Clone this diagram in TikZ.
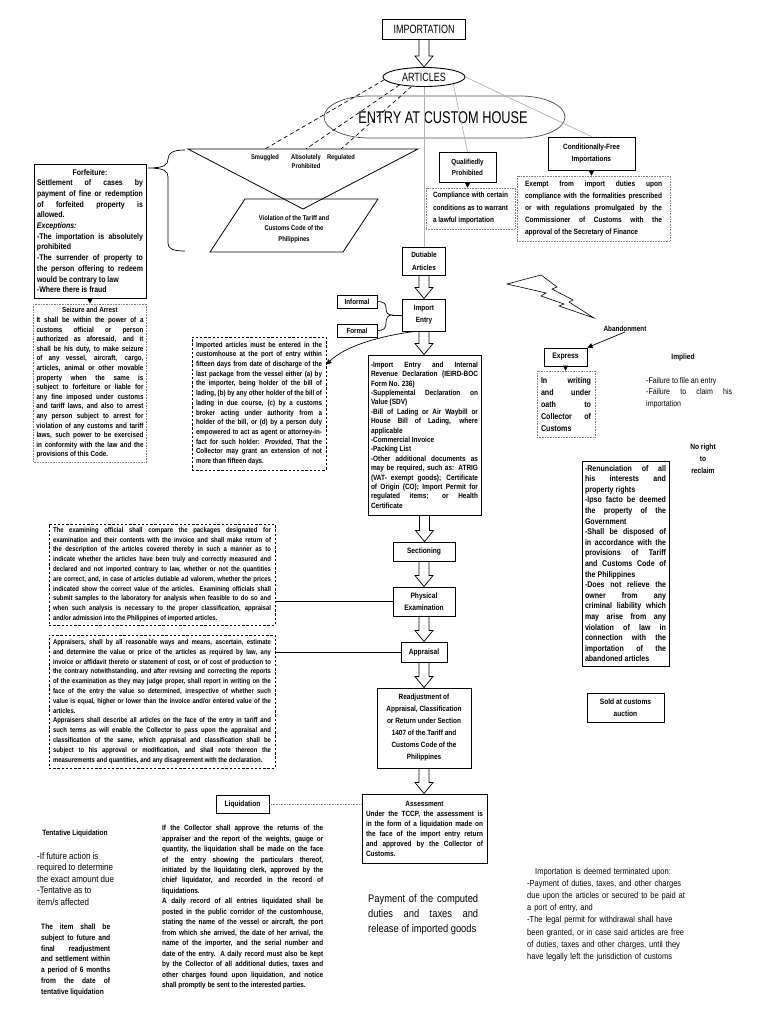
\documentclass[tikz,border=0pt]{standalone}
\usepackage{fontspec}
\setmainfont{Liberation Sans}[FakeStretch=0.85]
\newfontfamily\ttlfont{Liberation Sans}[FakeStretch=0.75]
\usetikzlibrary{positioning,calc,shapes.geometric,arrows.meta}
\newcommand\fsz[2]{\fontsize{#1}{#2}\selectfont}
\setlength{\parindent}{0pt}

\begin{document}
\begin{tikzpicture}[x=1pt,y=-1pt,
    box/.style={draw, line width=0.9pt, inner sep=1pt, align=center, font=\bfseries\fsz{7.8}{12}},
    dotbox/.style={draw=gray, densely dotted, line width=0.6pt, inner xsep=3pt, inner ysep=2pt, align=justify, font=\bfseries\fsz{7.6}{12.2}},
    dashbox/.style={draw, dash pattern=on 2.4pt off 1.8pt, line width=0.9pt, inner xsep=4pt, inner ysep=2pt, align=justify, font=\bfseries\fsz{7}{9.8}},
    txt/.style={inner sep=0, font=\bfseries\fsz{7.5}{10.5}},
    hollow/.style={line width=0.7pt, to path={let \p1=(\tikztostart), \p2=(\tikztotarget) in
      (\x1-5pt,\y1) -- (\x1-5pt,\y2+11pt) -- (\x1-9pt,\y2+11pt) -- (\x1,\y2)
      -- (\x1+9pt,\y2+11pt) -- (\x1+5pt,\y2+11pt) -- (\x1+5pt,\y1)}},
    pointer/.style={line width=0.7pt, -{Triangle[length=5pt,width=5pt]}},
    grayline/.style={draw=gray!60, line width=0.7pt}]
  \useasboundingbox[fill=white] (0,0) rectangle (768,1024);

  % importation
  \node[box, font=\ttlfont\fsz{12}{14}, minimum width=83, minimum height=20] (imp) at (424,29) {IMPORTATION};
  \node[draw, line width=0.9pt, ellipse, inner sep=0, minimum width=82, minimum height=19, font=\ttlfont\fsz{12}{14}] (art) at (424,77) {ARTICLES};
  \draw[hollow] (imp.south) to (art.north);

  % entry at custom house
  \draw[line width=0.7pt, draw=black!70] (369,96) -- (520,96) arc[start angle=-90, end angle=90, x radius=45, y radius=21]
    -- (369,138) arc[start angle=90, end angle=270, x radius=45, y radius=21] -- cycle;
  \node[font=\ttlfont\fsz{17}{20}] (entry) at (443,118) {ENTRY AT CUSTOM HOUSE};

  % prohibited importations
  \draw[line width=0.8pt] (245,199) -- (378,199) -- (343,252) -- (210,252) -- cycle;
  \draw[line width=0.8pt] (188,149) -- (418,149) -- (303,209) -- cycle;
  \node[txt, anchor=north, inner ysep=5pt, font=\bfseries\fsz{6.8}{9.5}] (smug) at (265,149) {Smuggled};
  \node[txt, anchor=north, inner ysep=5pt, align=center, font=\bfseries\fsz{6.8}{9.5}] (abs) at (306,149) {Absolutely\\Prohibited};
  \node[txt, anchor=north, inner ysep=5pt, font=\bfseries\fsz{6.8}{9.5}] (reg) at (341,149) {Regulated};
  \node[txt, align=center, font=\bfseries\fsz{6.9}{10.5}] (viol) at (294,229) {Violation of the Tariff and\\Customs Code of the\\Philippines};
  \draw[dash pattern=on 4pt off 3pt, line width=0.7pt] (art.184) -- (smug.north);
  \draw[dash pattern=on 4pt off 3pt, line width=0.7pt] (art.198) -- (abs.north);
  \draw[dash pattern=on 4pt off 3pt, line width=0.7pt] (art.217) -- (reg.north);

  % forfeiture and seizure
  \node[box, align=justify, text width=106, inner xsep=3pt, minimum height=134, font=\bfseries\fsz{8.2}{10.7}] (forf) at (90,231)
    {{\centering Forfeiture:\par}Settlement of cases by\linebreak payment of fine or redemption\linebreak of forfeited property is\linebreak allowed.\par
     \textit{Exceptions:}\par
     -The importation is absolutely\linebreak prohibited\par
     -The surrender of property to\linebreak the person offering to redeem\linebreak would be contrary to law\par
     -Where there is fraud};
  \node[dotbox, text width=107, inner xsep=3pt, minimum height=158, font=\bfseries\fsz{7.4}{9.6}] (seiz) at (90,383)
    {{\centering Seizure and Arrest\par}It shall be within the power of a\linebreak customs official or person\linebreak authorized as aforesaid, and it\linebreak
     shall be his duty, to make seizure\linebreak of any vessel, aircraft, cargo,\linebreak articles, animal or other movable\linebreak
     property when the same is\linebreak subject to forfeiture or liable for\linebreak any fine imposed under customs\linebreak
     and tariff laws, and also to arrest\linebreak any person subject to arrest for\linebreak violation of any customs and tariff\linebreak
     laws, such power to be exercised\linebreak in conformity with the law and the\linebreak provisions of this Code.};
  \draw[pointer] (forf.south) -- (seiz.north);
  \draw[line width=0.7pt] (185,150) .. controls (173,150) and (168,153) .. (168,159) .. controls (168,165) and (164,168) .. (148,168)
    .. controls (164,168) and (168,171) .. (168,177) -- (168,243) .. controls (168,249) and (173,251) .. (185,251);

  % qualifiedly prohibited
  \node[box, minimum width=57, minimum height=30, font=\bfseries\fsz{7.4}{11}] (qual) at (467.5,167) {Qualifiedly\\Prohibited};
  \node[dotbox, text width=75, inner xsep=7pt, minimum height=41, font=\bfseries\fsz{7.6}{12.5}] (compl) at (470.5,208.5)
    {Compliance with certain\linebreak conditions as to warrant\linebreak a lawful importation};
  \draw[pointer] (qual.south) -- (qual.south |- compl.north);

  % conditionally-free
  \node[box, minimum width=87, minimum height=33, font=\bfseries\fsz{7.6}{11.5}] (cond) at (591.5,153.5) {Conditionally-Free\\Importations};
  \node[dotbox, text width=137, inner xsep=8pt, minimum height=65, font=\bfseries\fsz{7.7}{12.2}] (exempt) at (593.5,208.5)
    {Exempt from import duties upon\linebreak compliance with the formalities prescribed\linebreak or with regulations promulgated by the\linebreak
     Commissioner of Customs with the\linebreak approval of the Secretary of Finance};
  \draw[pointer] (cond.south) -- (cond.south |- exempt.north);

  % dutiable articles and import entry
  \node[box, minimum width=43, minimum height=28, font=\bfseries\fsz{7.6}{13}] (dut) at (424,261) {Dutiable\\Articles};
  \node[box, minimum width=43, minimum height=32, font=\bfseries\fsz{7.6}{12}] (ient) at (424,315) {Import\\Entry};
  \node[box, minimum width=40, minimum height=13, font=\bfseries\fsz{7.4}{10}] (infm) at (357,301.5) {Informal};
  \node[box, minimum width=40, minimum height=13, font=\bfseries\fsz{7.4}{10}] (frml) at (357,330.5) {Formal};
  \coordinate (btip) at (392,315);
  \draw[line width=0.7pt] (infm.east) .. controls (384,301.5) and (386,304) .. (386,308) .. controls (386,313) and (388,315) .. (btip)
    .. controls (388,315) and (386,318) .. (386,323) .. controls (386,328) and (384,330.5) .. (frml.east);
  \draw[line width=0.7pt] (btip) -- (ient.west);
  \draw[grayline] (art.south) -- (dut.north);
  \draw[grayline] (art.south east) -- (qual.north);
  \draw[grayline] (art.east) -- (cond.north);
  \draw[hollow] (dut.south) to (ient.north);

  % period of entry
  \node[dashbox, text width=126, minimum height=133, font=\bfseries\fsz{7.3}{9.7}] (impa) at (259,403.5)
    {Imported articles must be entered in the\linebreak customhouse at the port of entry within\linebreak fifteen days from date of discharge of the\linebreak
     last package from the vessel either (a) by\linebreak the importer, being holder of the bill of\linebreak lading, (b) by any other holder of the bill of\linebreak
     lading in due course, (c) by a customs\linebreak broker acting under authority from a\linebreak holder of the bill, or (d) by a person duly\linebreak
     empowered to act as agent or attorney-in-\linebreak fact for such holder: \textit{Provided}, That the\linebreak Collector may grant an extension of not\linebreak
     more than fifteen days.};
  \draw[pointer] (ient.240) .. controls (380,336) and (345,346) .. (impa.30);

  % documents
  \node[box, align=justify, text width=107, inner xsep=3pt, minimum height=160, font=\bfseries\fsz{7.6}{9.4}] (docs) at (424.5,435)
    {-Import Entry and Internal\linebreak Revenue Declaration (IEIRD-BOC\linebreak Form No. 236)\par
     -Supplemental Declaration on\linebreak Value (SDV)\par
     -Bill of Lading or Air Waybill or\linebreak House Bill of Lading, where\linebreak applicable\par
     -Commercial Invoice\par
     -Packing List\par
     -Other additional documents as\linebreak may be required, such as: ATRIG\linebreak (VAT- exempt goods); Certificate\linebreak
     of Origin (CO); Import Permit for\linebreak regulated items; or Health\linebreak Certificate};
  \draw[hollow] (ient.south) to (docs.north);

  % examination and appraisal
  \node[box] (sect) at (424,551.5) [minimum width=62, minimum height=19] {Sectioning};
  \node[box, minimum width=62, minimum height=29, font=\bfseries\fsz{7.8}{11.5}] (phys) at (424,601.5) {Physical\\Examination};
  \node[box, minimum width=46, minimum height=20] (appr) at (424,652) {Appraisal};
  \node[box, minimum width=94, minimum height=80, font=\bfseries\fsz{7.6}{12}] (readj) at (424,728)
    {Readjustment of\\Appraisal, Classification\\or Return under Section\\1407 of the Tariff and\\Customs Code of the\\Philippines};
  \node[box, align=justify, text width=117, inner xsep=4pt, minimum height=69, font=\bfseries\fsz{7.6}{10}] (assess) at (424.5,828.5)
    {{\centering Assessment\par}Under the TCCP, the assessment is\linebreak in the form of a liquidation made on\linebreak
     the face of the import entry return\linebreak and approved by the Collector of\linebreak Customs.};
  \draw[hollow] (docs.south) to (sect.north);
  \draw[hollow] (sect.south) to (phys.north);
  \draw[hollow] (phys.south) to (appr.north);
  \draw[hollow] (appr.south) to (readj.north);
  \draw[hollow] (readj.south) to (assess.north);

  \node[dashbox, text width=218, minimum height=101] (exam) at (162,574.5)
    {The examining official shall compare the packages designated for\linebreak examination and their contents with the invoice and shall make return of\linebreak
     the description of the articles covered thereby in such a manner as to\linebreak indicate whether the articles have been truly and correctly measured and\linebreak
     declared and not imported contrary to law, whether or not the quantities\linebreak are correct, and, in case of articles dutiable ad valorem, whether the prices\linebreak
     indicated show the correct value of the articles. Examining officials shall\linebreak submit samples to the laboratory for analysis when feasible to do so and\linebreak
     when such analysis is necessary to the proper classification, appraisal\linebreak and/or admission into the Philippines of imported articles.};
  \node[dashbox, text width=218, minimum height=133] (apprs) at (162,701.5)
    {Appraisers, shall by all reasonable ways and means, ascertain, estimate\linebreak and determine the value or price of the articles as required by law, any\linebreak
     invoice or affidavit thereto or statement of cost, or of cost of production to\linebreak the contrary notwithstanding, and after revising and correcting the reports\linebreak
     of the examination as they may judge proper, shall report in writing on the\linebreak face of the entry the value so determined, irrespective of whether such\linebreak
     value is equal, higher or lower than the invoice and/or entered value of the\linebreak articles.\par
     Appraisers shall describe all articles on the face of the entry in tariff and\linebreak such terms as will enable the Collector to pass upon the appraisal and\linebreak
     classification of the same, which appraisal and classification shall be\linebreak subject to his approval or modification, and shall note thereon the\linebreak
     measurements and quantities, and any disagreement with the declaration.};
  \draw[line width=0.8pt] (phys.west) -- (phys.west -| exam.east);
  \draw[line width=0.8pt] (appr.west) -- (appr.west -| apprs.east);

  % liquidation
  \node[box, minimum width=53, minimum height=18] (liq) at (242.5,804) {Liquidation};
  \draw[draw=gray, densely dotted, line width=0.6pt] (liq.east) -- (liq.east -| assess.west);
  \node[txt, font=\bfseries\fsz{7.7}{10}] (tent) at (75,833) {Tentative Liquidation};
  \node[txt, anchor=north west, align=left, font=\fsz{9.4}{11.5}] (tentl) at (37,852)
    {-If future action is\\required to determine\\the exact amount due\\-Tentative as to\\item/s affected};
  \node[txt, anchor=north west, text width=69, align=justify, font=\bfseries\fsz{7.8}{10.7}] (item) at (41,924)
    {The item shall be\linebreak subject to future and\linebreak final readjustment\linebreak and settlement within\linebreak
     a period of 6 months\linebreak from the date of\linebreak tentative liquidation};
  \node[txt, anchor=north west, text width=161, align=justify, font=\bfseries\fsz{7.5}{10.47}] (liqt) at (162,825)
    {If the Collector shall approve the returns of the\linebreak appraiser and the report of the weights, gauge or\linebreak
     quantity, the liquidation shall be made on the face\linebreak of the entry showing the particulars thereof,\linebreak
     initiated by the liquidating clerk, approved by the\linebreak chief liquidator, and recorded in the record of\linebreak liquidations.\par
     A daily record of all entries liquidated shall be\linebreak posted in the public corridor of the customhouse,\linebreak
     stating the name of the vessel or aircraft, the port\linebreak from which she arrived, the date of her arrival, the\linebreak
     name of the importer, and the serial number and\linebreak date of the entry. A daily record must also be kept\linebreak
     by the Collector of all additional duties, taxes and\linebreak other charges found upon liquidation, and notice\linebreak
     shall promptly be sent to the interested parties.};

  % payment and termination
  \node[txt, anchor=north west, text width=110, align=justify, font=\fsz{11}{15}] (pay) at (368,894)
    {Payment of the computed\linebreak duties and taxes and\linebreak release of imported goods};
  \node[txt, anchor=north west, text width=172, align=left, font=\fsz{8.8}{12.1}] (term) at (527,868)
    {\hspace*{8pt}Importation is deemed terminated upon:\\-Payment of duties, taxes, and other charges\\
     due upon the articles or secured to be paid at\\a port of entry, and\\-The legal permit for withdrawal shall have\\
     been granted, or in case said articles are free\\of duties, taxes and other charges, until they\\
     have legally left the jurisdiction of customs};

  % abandonment
  \draw[fill=white, line width=0.6pt] (507,284) -- (541,275) -- (557,287) -- (552,289) -- (573,300) -- (569,302) -- (594,318)
    -- (559,306) -- (564,304) -- (541,296) -- (546,293) -- cycle;
  \node[txt] (aband) at (625,329) {Abandonment};
  \node[box, minimum width=43, minimum height=18, font=\bfseries\fsz{8}{10}] (expr) at (565.5,357) {Express};
  \draw[pointer] (aband.south) -- (expr.north east);
  \node[dotbox, text width=50, inner xsep=4pt, minimum height=66, font=\bfseries\fsz{8.4}{12}] (writ) at (566,404)
    {In writing\linebreak and under\linebreak oath to\linebreak Collector of\linebreak Customs};
  \draw[pointer] (expr.south) -- (expr.south |- writ.north);
  \node[txt, font=\bfseries\fsz{7.8}{10}] (impl) at (683,357) {Implied};
  \node[txt, anchor=north west, text width=86, align=justify, font=\fsz{8.3}{11.5}] (fail) at (646,377)
    {-Failure to file an entry\par -Failure to claim his\linebreak importation};
  \node[txt, align=center, font=\bfseries\fsz{7.8}{12}] (noright) at (703,459) {No right\\to\\reclaim};
  \node[box, align=justify, text width=81, inner xsep=3pt, minimum height=205, font=\bfseries\fsz{8.3}{10.6}] (renun) at (625.5,563.5)
    {-Renunciation of all\linebreak his interests and\linebreak property rights\par
     -Ipso facto be deemed\linebreak the property of the\linebreak Government\par
     -Shall be disposed of\linebreak in accordance with the\linebreak provisions of Tariff\linebreak and Customs Code of\linebreak the Philippines\par
     -Does not relieve the\linebreak owner from any\linebreak criminal liability which\linebreak may arise from any\linebreak
     violation of law in\linebreak connection with the\linebreak importation of the\linebreak abandoned articles};
  \node[box, minimum width=77, minimum height=29, font=\bfseries\fsz{7.8}{11.5}] (sold) at (625.5,707.5) {Sold at customs\\auction};
\end{tikzpicture}
\end{document}
